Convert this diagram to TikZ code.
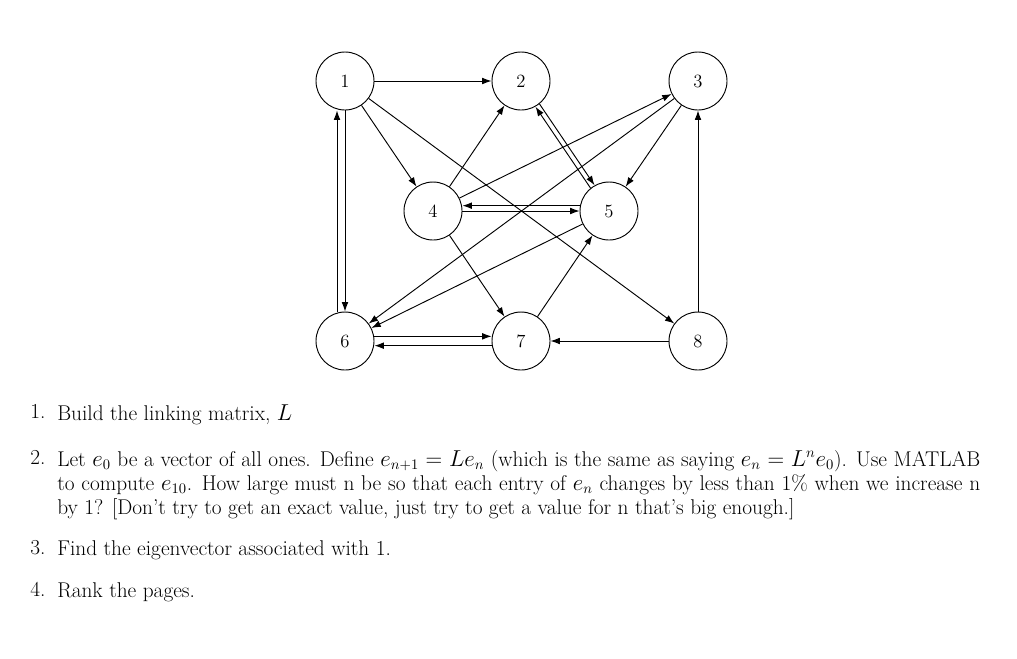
\documentclass[tikz,border=0pt]{standalone}
\usetikzlibrary{arrows.meta}
\begin{document}
\begin{tikzpicture}[x=0.75pt,y=-0.75pt,
  vert/.style={circle,draw,minimum size=43.5pt,inner sep=0pt,line width=0.7pt,font=\fontsize{14}{16}\selectfont},
  edge/.style={-{Latex[length=7pt,width=5pt]},line width=0.7pt},
  item/.style={anchor=north west,inner sep=0pt,font=\fontsize{16}{18}\selectfont,align=justify,text width=923*0.75pt},
  num/.style={anchor=north west,inner sep=0pt,font=\fontsize{16}{18}\selectfont}]
\useasboundingbox (0,0) rectangle (1017,658);
\node[vert] (n1) at (345,81) {1};
\node[vert] (n2) at (521,81) {2};
\node[vert] (n3) at (698,81) {3};
\node[vert] (n4) at (433,211) {4};
\node[vert] (n5) at (609,211) {5};
\node[vert] (n6) at (345,341) {6};
\node[vert] (n7) at (521,341) {7};
\node[vert] (n8) at (698,341) {8};
\draw[edge] (n1) -- (n2);
\draw[edge] (n1) -- (n4);
\draw[edge] (n1) -- (n8);
\draw[edge] ([xshift=-6pt]n6.north) -- ([xshift=-6pt]n1.south);
\draw[edge] (n1) -- (n6);
\draw[edge,transform canvas={shift={(2,-1.4)}}] (n2) -- (n5);
\draw[edge,transform canvas={shift={(-2,1.4)}}] (n5) -- (n2);
\draw[edge] (n3) -- (n5);
\draw[edge] (n3) -- (n6);
\draw[edge] (n4) -- (n3);
\draw[edge] (n4) -- (n2);
\draw[edge] ([yshift=4pt]n5.west) -- ([yshift=4pt]n4.east);
\draw[edge] (n4) -- (n5);
\draw[edge] (n4) -- (n7);
\draw[edge] (n5) -- (n6);
\draw[edge] (n7) -- (n5);
\draw[edge] ([yshift=3.5pt]n6.east) -- ([yshift=3.5pt]n7.west);
\draw[edge] ([yshift=-3.5pt]n7.west) -- ([yshift=-3.5pt]n6.east);
\draw[edge] (n8) -- (n7);
\draw[edge] (n8) -- (n3);
\node[num] (i1n) at (30,404) {1.};
\node[item] (i1) at (57,404) {Build the linking matrix, $L$};
\node[num] (i2n) at (30,450) {2.};
\node[item] (i2) at (57,450) {Let $e_0$ be a vector of all ones. Define $e_{n+1}=Le_n$ (which is the same as saying $e_n=L^ne_0$). Use MATLAB to compute $e_{10}$. How large must n be so that each entry of $e_n$ changes by less than 1\% when we increase n by 1? [Don't try to get an exact value, just try to get a value for n that's big enough.]};
\node[num] (i3n) at (30,540) {3.};
\node[item] (i3) at (57,540) {Find the eigenvector associated with 1.};
\node[num] (i4n) at (30,582) {4.};
\node[item] (i4) at (57,582) {Rank the pages.};
\end{tikzpicture}
\end{document}
